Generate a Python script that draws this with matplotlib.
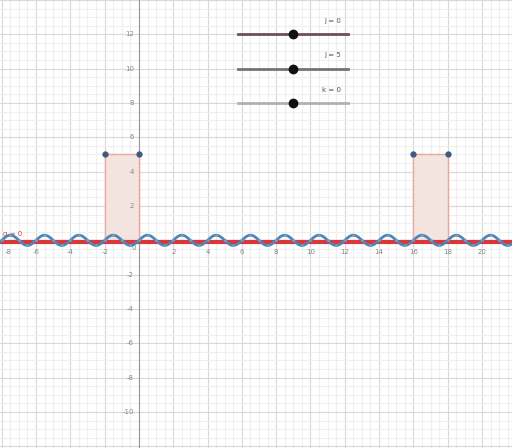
import numpy as np
import matplotlib.pyplot as plt

# pulse rectangles (x start, x end, height)
pulse_x = [(-2, 0), (16, 18)]
pulse_h = 5
# wave sample points
wave_x = np.arange(-8, 22.01, 0.5)
wave_amp = 0.3
wave_period = 2.0
# sliders: label, y position, colour
slider_labels = ["j = 0", "j = 5", "k = 0"]
slider_y = [12, 10, 8]
slider_colors = ["#6b4f5a", "#77707a", "#b0b0b8"]

fig = plt.figure(figsize=(5.12, 4.48), dpi=100)
ax = fig.add_axes([0, 0, 1, 1])
xmin, xmax = -8.1, 21.75
ymin, ymax = -12.1, 14.0
ax.set_xlim(xmin, xmax)
ax.set_ylim(ymin, ymax)
ax.axis("off")

# grid
for x in np.arange(-8, 22.01, 0.5):
    major = abs(x / 2 - round(x / 2)) < 1e-9
    ax.axvline(x, color="#d8d8d8" if major else "#efefef", lw=0.8, zorder=0)
for y in np.arange(-12, 14.01, 0.5):
    major = abs(y / 2 - round(y / 2)) < 1e-9
    ax.axhline(y, color="#d8d8d8" if major else "#efefef", lw=0.8, zorder=0)
ax.axhline(0, color="#999999", lw=0.8, zorder=1)
ax.axvline(0, color="#999999", lw=0.8, zorder=1)

# tick labels
for y in range(-10, 14, 2):
    if y != 0:
        ax.text(-0.3, y, str(y), fontsize=5, color="#888888", ha="right", va="center")
for x in range(-8, 22, 2):
    if x != 0:
        ax.text(max(x, -7.85), -0.5, str(x), fontsize=5, color="#888888",
                ha="left" if x == -8 else "center", va="top")
ax.text(-0.2, -0.3, "0", fontsize=5, color="#888888", ha="right", va="top")

# pulses
for x0, x1 in pulse_x:
    ax.fill([x0, x1, x1, x0], [0, 0, pulse_h, pulse_h], color="#f3e4e0", zorder=2)
    ax.plot([x0, x0, x1, x1], [0, pulse_h, pulse_h, 0], color="#e8a8a0", lw=1, zorder=3)
    ax.plot([x0, x1], [pulse_h, pulse_h], "o", color="#3d5a80", ms=3.5, zorder=4)

# red line and blue wave
ax.axhline(-0.1, color="#d9383a", lw=3, zorder=3)
xs = np.linspace(xmin, xmax, 800)
ax.plot(xs, wave_amp * np.sin(2 * np.pi * xs / wave_period), color="#4f86b8", lw=2, zorder=4)
ax.plot(wave_x, wave_amp * np.sin(2 * np.pi * wave_x / wave_period), ".", color="#6fa0c8", ms=2, zorder=5)
ax.text(-7.9, 0.2, "g = 0", fontsize=5, color="#d9383a", va="bottom")

# sliders
for lab, y, c in zip(slider_labels, slider_y, slider_colors):
    ax.plot([5.8, 12.2], [y, y], color=c, lw=2, zorder=5)
    ax.plot([9.0], [y], "o", color="#111111", ms=6, zorder=6)
    ax.text(11.8, y + 0.6, lab, fontsize=5, color="#555555", ha="right", va="bottom")

fig.savefig("out.png", dpi=100)
